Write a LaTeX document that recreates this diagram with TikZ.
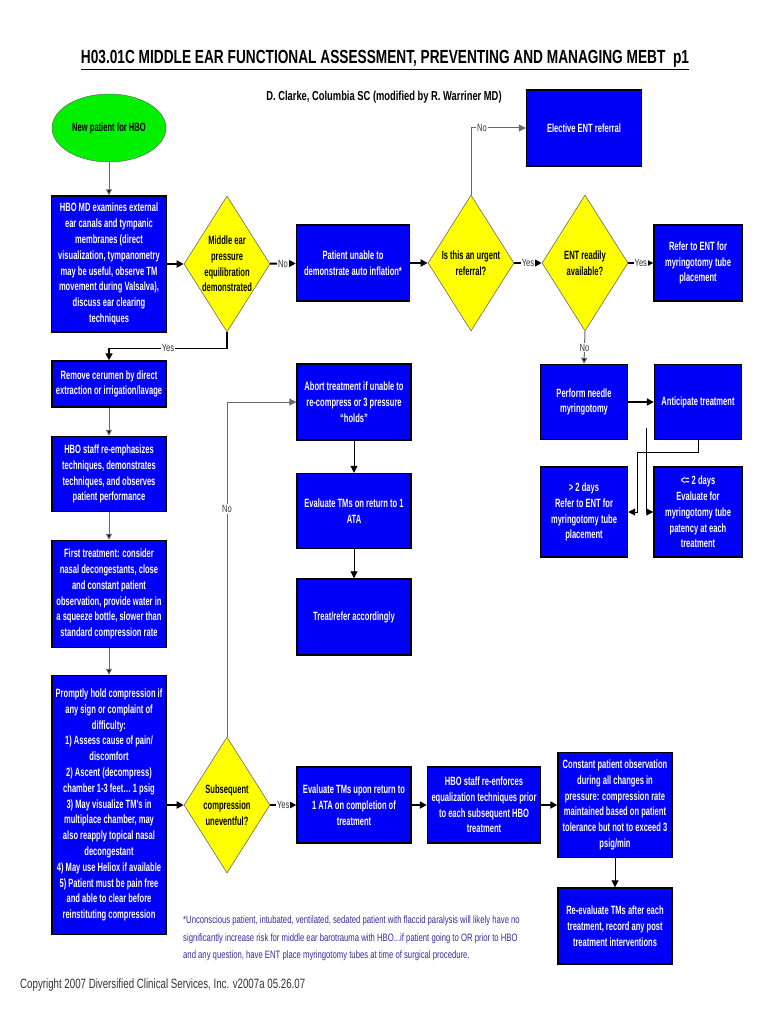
\documentclass[tikz,border=0pt]{standalone}
\usepackage{fontspec}
\setmainfont{Liberation Sans}[FakeStretch=0.72]
\newfontfamily\boxfont{Liberation Sans}[FakeStretch=0.63]
\usepackage{tikz}
\usetikzlibrary{shapes.geometric, arrows.meta, positioning, calc}

\definecolor{boxblue}{RGB}{0,0,250}
\definecolor{decyellow}{RGB}{255,255,0}
\definecolor{startgreen}{RGB}{0,240,0}
\definecolor{notecolor}{RGB}{55,45,150}
\definecolor{linegray}{RGB}{105,105,105}

\tikzset{
  stepbox/.style={draw=black, line width=1.4pt, fill=boxblue, text=white, align=center, inner sep=2pt,
    font=\boxfont\bfseries\fontsize{12}{15.8}\selectfont},
  decision/.style={diamond, draw=linegray, line width=0.6pt, fill=decyellow, inner sep=0pt,
    minimum width=86pt, minimum height=136pt},
  dectext/.style={align=center, font=\boxfont\bfseries\fontsize{12}{15.8}\selectfont},
  flow/.style={line width=2pt, -{Triangle[length=7pt, width=7pt]}},
  link/.style={line width=1pt, draw=linegray, -{Triangle[length=6pt, width=6pt, fill=black]}},
  branch/.style={line width=1pt, -{Triangle[length=7pt, width=7pt]}},
  answer/.style={fill=white, inner sep=1pt, font=\fontsize{10.5}{12}\selectfont, text=black!80},
}

\begin{document}
\begin{tikzpicture}[x=1pt, y=-1pt]
  \useasboundingbox (0,0) rectangle (768,1024);

  % Heading
  \node (title) at (385,60) {\bfseries\fontsize{19}{22}\selectfont\underline{H03.01C MIDDLE EAR FUNCTIONAL ASSESSMENT, PREVENTING AND MANAGING MEBT\ \ p1}};
  \node (author) at (384,97) {\bfseries\fontsize{13}{15}\selectfont D. Clarke, Columbia SC (modified by R. Warriner MD)};

  % Left column
  \node[ellipse, draw=linegray, line width=0.5pt, fill=startgreen, minimum width=114pt, minimum height=68pt,
    font=\boxfont\bfseries\fontsize{12}{14}\selectfont] (start) at (109,128) {New patient for HBO};
  \node[stepbox, minimum width=115pt, minimum height=136pt] (exam) at (109,264) {HBO MD examines external\\ear canals and tympanic\\membranes (direct\\visualization, tympanometry\\may be useful, observe TM\\movement during Valsalva),\\discuss ear clearing\\techniques};
  \node[stepbox, minimum width=114pt, minimum height=46pt] (cerumen) at (109,384) {Remove cerumen by direct\\extraction or irrigation/lavage};
  \node[stepbox, minimum width=114pt, minimum height=75pt] (emphasize) at (109,474) {HBO staff re-emphasizes\\techniques, demonstrates\\techniques, and observes\\patient performance};
  \node[stepbox, minimum width=114pt, minimum height=107pt] (firsttx) at (109,594) {First treatment: consider\\nasal decongestants, close\\and constant patient\\observation, provide water in\\a squeeze bottle, slower than\\standard compression rate};
  \node[stepbox, minimum width=114pt, minimum height=259pt] (hold) at (109,805) {Promptly hold compression if\\any sign or complaint of\\difficulty:\\1) Assess cause of pain/\\discomfort\\2) Ascent (decompress)\\chamber 1-3 feet\dots\ 1 psig\\3) May visualize TM's in\\multiplace chamber, may\\also reapply topical nasal\\decongestant\\4) May use Heliox if available\\5) Patient must be pain free\\and able to clear before\\reinstituting compression};

  % Decisions
  \node[decision, label={[dectext]center:{Middle ear\\pressure\\equilibration\\demonstrated}}] (equal) at (227,264) {};
  \node[decision, label={[dectext]center:{Is this an urgent\\referral?}}] (urgent) at (471,263) {};
  \node[decision, label={[dectext]center:{ENT readily\\available?}}] (ready) at (585,263) {};
  \node[decision, label={[dectext]center:{Subsequent\\compression\\uneventful?}}] (uneventful) at (227,805) {};

  % Upper row
  \node[stepbox, minimum width=113pt, minimum height=76pt] (unable) at (353,263) {Patient unable to\\demonstrate auto inflation*};
  \node[stepbox, minimum width=115pt, minimum height=76pt] (elective) at (584,128) {Elective ENT referral};
  \node[stepbox, minimum width=88pt, minimum height=76pt] (referent) at (698,263) {Refer to ENT for\\myringotomy tube\\placement};
  \node[stepbox, minimum width=87pt, minimum height=75pt] (needle) at (584,402) {Perform needle\\myringotomy};
  \node[stepbox, minimum width=87pt, minimum height=75pt] (anticipate) at (698,402) {Anticipate treatment};
  \node[stepbox, minimum width=87pt, minimum height=90pt] (over) at (584,512) {> 2 days\\Refer to ENT for\\myringotomy tube\\placement};
  \node[stepbox, minimum width=88pt, minimum height=90pt] (within) at (698,512) {<= 2 days\\Evaluate for\\myringotomy tube\\patency at each\\treatment};

  % Abort branch
  \node[stepbox, minimum width=114pt, minimum height=76pt] (abort) at (354,402) {Abort treatment if unable to\\re-compress or 3 pressure\\“holds”};
  \node[stepbox, minimum width=114pt, minimum height=75pt] (evalata) at (354,511) {Evaluate TMs on return to 1\\ATA};
  \node[stepbox, minimum width=114pt, minimum height=76pt] (treat) at (354,617) {Treat/refer accordingly};

  % Lower row
  \node[stepbox, minimum width=114pt, minimum height=76pt] (evalreturn) at (354,805) {Evaluate TMs upon return to\\1 ATA on completion of\\treatment};
  \node[stepbox, minimum width=113pt, minimum height=76pt] (reenforce) at (484,805) {HBO staff re-enforces\\equalization techniques prior\\to each subsequent HBO\\treatment};
  \node[stepbox, minimum width=114pt, minimum height=105pt] (observe) at (615,805) {Constant patient observation\\during all changes in\\pressure: compression rate\\maintained based on patient\\tolerance but not to exceed 3\\psig/min};
  \node[stepbox, minimum width=114pt, minimum height=76pt] (reevaluate) at (615,926) {Re-evaluate TMs after each\\treatment, record any post\\treatment interventions};

  % Footnote and copyright
  \node[anchor=north west, align=left, inner sep=1pt, text=notecolor, font=\fontsize{10.7}{17.5}\selectfont] (note) at (182,915)
    {*Unconscious patient, intubated, ventilated, sedated patient with flaccid paralysis will likely have no\\significantly increase risk for middle ear barotrauma with HBO...if patient going to OR prior to HBO\\and any question, have ENT place myringotomy tubes at time of surgical procedure.};
  \node[anchor=west, inner sep=1pt, text=black!80, font=\fontsize{13.5}{15}\selectfont] (copyright) at (19,985) {Copyright 2007 Diversified Clinical Services, Inc. v2007a 05.26.07};

  % Connectors
  \draw[link] (start) -- (exam);
  \draw[flow] (exam) -- (equal);
  \draw[flow] (equal) -- node[answer] {No} (unable);
  \draw[flow] (unable) -- (urgent);
  \draw[flow] (urgent) -- node[answer] {Yes} (ready);
  \draw[flow] (ready) -- node[answer] {Yes} (referent);
  \draw[link, -{Triangle[length=7pt, width=7pt]}] (urgent.north) |- node[answer, pos=0.6] {No} (elective.west);
  \draw[link] (ready.south) -- node[answer] {No} (needle.north);
  \draw[flow] (needle) -- (anticipate);
  \draw[branch] (anticipate.south) -- ++(0,12) -| ([xshift=9pt]over.east) -- (over.east);
  \draw[branch] ([xshift=-52pt, yshift=12pt]anticipate.south) |- (within.west);
  \draw[line width=1.6pt, -{Triangle[length=7pt, width=7pt]}] (equal.south) -- ++(0,16) -| node[answer, pos=0.25] {Yes} (cerumen.north);
  \draw[link] (cerumen) -- (emphasize);
  \draw[link] (emphasize) -- (firsttx);
  \draw[link] (firsttx) -- (hold);
  \draw[flow] (hold.east |- uneventful) -- (uneventful);
  \draw[flow] (uneventful) -- node[answer] {Yes} (evalreturn);
  \draw[flow] (evalreturn) -- (reenforce);
  \draw[flow] (reenforce) -- (observe);
  \draw[branch] (observe) -- (reevaluate);
  \draw[link, -{Triangle[length=7pt, width=7pt]}] (uneventful.north) |- node[answer, pos=0.34] {No} (abort.west);
  \draw[branch] (abort) -- (evalata);
  \draw[branch] (evalata) -- (treat);
\end{tikzpicture}
\end{document}
